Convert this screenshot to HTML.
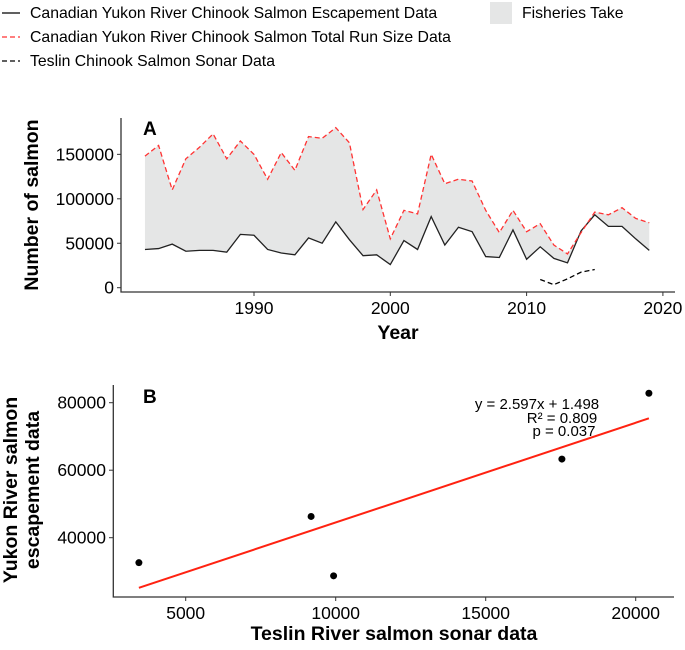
<!DOCTYPE html>
<html><head><meta charset="utf-8"><style>
body{margin:0;background:#fff;font-family:"Liberation Sans",Arial,sans-serif}
svg text{font-family:"Liberation Sans",Arial,sans-serif}
</style></head><body>
<svg id="s" width="685" height="645" xmlns="http://www.w3.org/2000/svg">
<g font-size="15.8">
<line x1="2" y1="13" x2="20" y2="13" stroke="#000" stroke-width="1.3"/>
<text x="30" y="18">Canadian Yukon River Chinook Salmon Escapement Data</text>
<line x1="2" y1="37" x2="20" y2="37" stroke="#f33" stroke-width="1.3" stroke-dasharray="5,3"/>
<text x="30" y="42">Canadian Yukon River Chinook Salmon Total Run Size Data</text>
<line x1="2" y1="61" x2="20" y2="61" stroke="#000" stroke-width="1.3" stroke-dasharray="5,3"/>
<text x="30" y="66">Teslin Chinook Salmon Sonar Data</text>
<rect x="490" y="2" width="22" height="22" fill="#e5e6e6"/>
<text x="522" y="18">Fisheries Take</text>
</g>
<g id="A"></g>
<g id="B"></g>
</svg>
<script>
const years=[1982,1983,1984,1985,1986,1987,1988,1989,1990,1991,1992,1993,1994,1995,1996,1997,1998,1999,2000,2001,2002,2003,2004,2005,2006,2007,2008,2009,2010,2011,2012,2013,2014,2015,2016,2017,2018,2019];
const runSize=[148000,160000,110000,145000,158000,173000,145000,165000,150000,122000,152000,132000,170000,168000,180000,163000,88000,110000,55000,87000,83000,150000,117000,122000,120000,87000,62000,87000,63000,72000,48000,38000,62000,85000,82000,90000,78000,73000];
const escapement=[43000,44000,49000,41000,42000,42000,40000,60000,59000,43000,39000,37000,56000,50000,74000,54000,36000,37000,26000,53000,43000,80000,48000,68000,63000,35000,34000,65000,32000,46000,33000,28000,64000,82000,69000,69000,55000,42000];
const teslinYears=[2011,2012,2013,2014,2015];
const teslin=[9180,3440,9930,17540,20440];
const teslinEsc=[46300,32600,28700,63300,82800];
const aXTicks=[1990,2000,2010,2020];
const aYTicks=[0,50000,100000,150000];
const bXTicks=[5000,10000,15000,20000];
const bYTicks=[40000,60000,80000];
const NS="http://www.w3.org/2000/svg";
function mk(p,t,a,txt){const e=document.createElementNS(NS,t);for(const k in a)e.setAttribute(k,a[k]);if(txt!==undefined)e.textContent=txt;p.appendChild(e);return e;}
const TF=17.5;
// Panel A
const A=document.getElementById('A');
const ax=y=>254+(y-1990)*13.63, ay=v=>287.7-v*0.000889;
let poly=years.map((y,i)=>ax(y)+','+ay(runSize[i])).concat(years.slice().reverse().map((y,j)=>{const i=years.length-1-j;return ax(y)+','+ay(escapement[i]);}));
let e=mk(A,'polygon',{points:poly.join(' '),fill:'#e5e6e6'});


e=mk(A,'polyline',{points:years.map((y,i)=>ax(y)+','+ay(escapement[i])).join(' '),fill:'none',stroke:'#222','stroke-width':1.3});


e=mk(A,'polyline',{points:years.map((y,i)=>ax(y)+','+ay(runSize[i])).join(' '),fill:'none',stroke:'#f33','stroke-width':1.3,'stroke-dasharray':'5,3'});


e=mk(A,'polyline',{points:teslinYears.map((y,i)=>ax(y)+','+ay(teslin[i])).join(' '),fill:'none',stroke:'#000','stroke-width':1.3,'stroke-dasharray':'5,3'});


mk(A,'polyline',{points:'121,118 121,292 675,292',fill:'none',stroke:'#333','stroke-width':1.3});
aXTicks.forEach(t=>{mk(A,'line',{x1:ax(t),x2:ax(t),y1:292,y2:296,stroke:'#333'});
e=mk(A,'text',{x:ax(t),y:314,'font-size':TF,'text-anchor':'middle'},t);

});
aYTicks.forEach(t=>{mk(A,'line',{x1:117,x2:121,y1:ay(t),y2:ay(t),stroke:'#333'});
e=mk(A,'text',{x:114,y:ay(t)+6,'font-size':TF,'text-anchor':'end'},t);

});
e=mk(A,'text',{x:143,y:135,'font-size':19,'font-weight':'bold'},'A');


e=mk(A,'text',{x:398,y:339,'font-size':19.5,'font-weight':'bold','text-anchor':'middle'},'Year');


e=mk(A,'text',{x:0,y:0,'font-size':19.5,'font-weight':'bold','text-anchor':'middle',transform:'translate(38,205) rotate(-90)'},'Number of salmon');


// Panel B
const B=document.getElementById('B');
const bx=v=>185.7+(v-5000)*0.03, by=v=>537.7-(v-40000)*0.003375;
const n=teslin.length,mx=teslin.reduce((a,b)=>a+b)/n,my=teslinEsc.reduce((a,b)=>a+b)/n;
let sxy=0,sxx=0;teslin.forEach((x,i)=>{sxy+=(x-mx)*(teslinEsc[i]-my);sxx+=(x-mx)**2;});
const sl=sxy/sxx,ic=my-sl*mx,x0=Math.min(...teslin),x1=Math.max(...teslin);
e=mk(B,'line',{x1:bx(x0),y1:by(ic+sl*x0),x2:bx(x1),y2:by(ic+sl*x1),stroke:'#f21','stroke-width':2});


teslin.forEach((x,i)=>{e=mk(B,'circle',{cx:bx(x),cy:by(teslinEsc[i]),r:3.5,fill:'#000'});

});
mk(B,'polyline',{points:'113.3,385 113.3,597 674,597',fill:'none',stroke:'#333','stroke-width':1.3});
bXTicks.forEach(t=>{mk(B,'line',{x1:bx(t),x2:bx(t),y1:597,y2:601,stroke:'#333'});
e=mk(B,'text',{x:bx(t),y:619,'font-size':TF,'text-anchor':'middle'},t);

});
bYTicks.forEach(t=>{mk(B,'line',{x1:109,x2:113,y1:by(t),y2:by(t),stroke:'#333'});
e=mk(B,'text',{x:106,y:by(t)+6,'font-size':TF,'text-anchor':'end'},t);

});
e=mk(B,'text',{x:143,y:403,'font-size':19,'font-weight':'bold'},'B');


const ann=[['y = 2.597x + 1.498',537,409],['R\u00b2 = 0.809',562,423],['p = 0.037',564,436]];
ann.forEach(a=>{e=mk(B,'text',{x:a[1],y:a[2],'font-size':15,'text-anchor':'middle'},a[0]);

});
e=mk(B,'text',{x:394,y:640,'font-size':19.5,'font-weight':'bold','text-anchor':'middle'},'Teslin River salmon sonar data');


e=mk(B,'text',{x:0,y:0,'font-size':19.5,'font-weight':'bold','text-anchor':'middle',transform:'translate(17,490) rotate(-90)'},'Yukon River salmon');


e=mk(B,'text',{x:0,y:0,'font-size':19.5,'font-weight':'bold','text-anchor':'middle',transform:'translate(39,490) rotate(-90)'},'escapement data');


</script>
</body></html>
